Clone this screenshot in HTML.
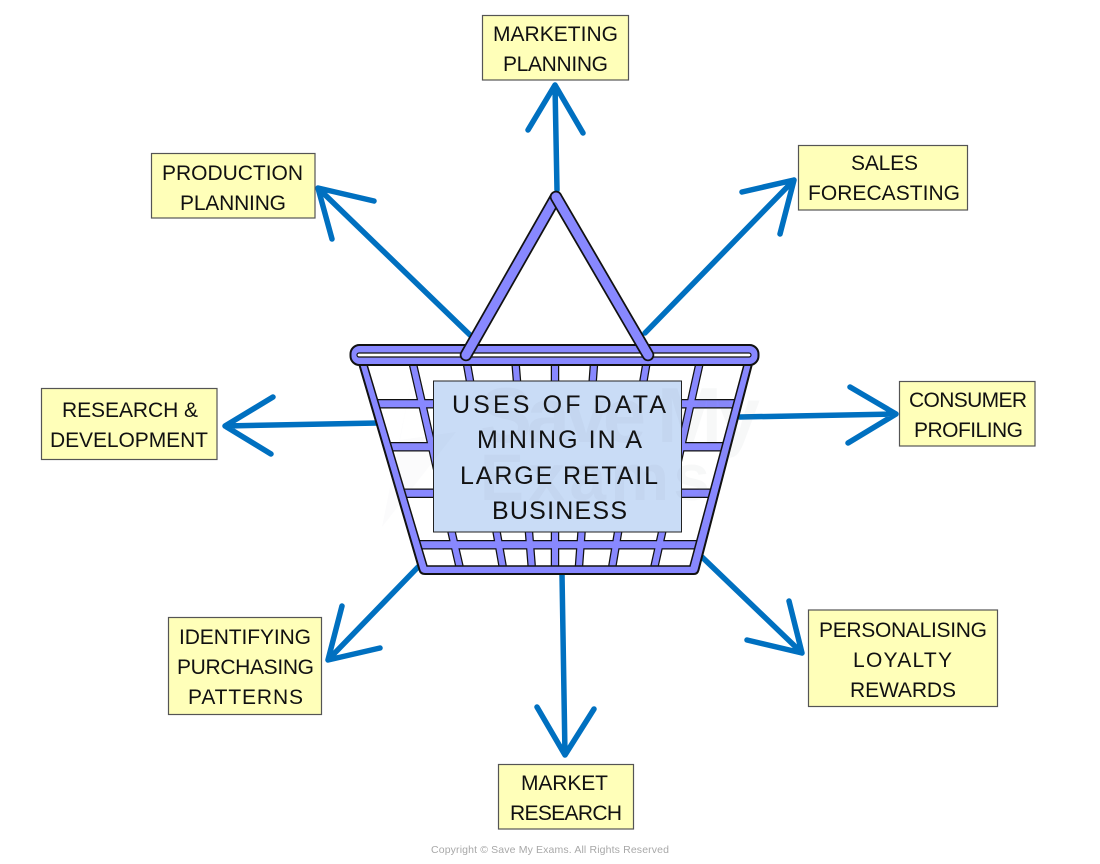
<!DOCTYPE html>
<html><head><meta charset="utf-8"><style>
html,body{margin:0;padding:0;background:#fff;width:1100px;height:864px;overflow:hidden}
svg{display:block}
.t{font-family:"Liberation Sans",sans-serif;font-size:21px;fill:#111}
.c{font-family:"Liberation Sans",sans-serif;font-size:25px;fill:#111}
.b{fill:#ffffb9;stroke:#555;stroke-width:1.2}
</style></head><body>
<svg width="1100" height="864" viewBox="0 0 1100 864" xmlns="http://www.w3.org/2000/svg">
<defs><clipPath id="k"><polygon points="367,364.700 427,566 690,566 744,364.700"/></clipPath></defs>
<g fill="none" stroke="#0070c0" stroke-width="5.500" stroke-linecap="round" stroke-linejoin="round">
<path d="M557 190L555 85M528 130L555 85L583 133"/>
<path d="M470 335L318 188M374 201L318 188L332 239"/>
<path d="M645 333L794 180M742 192L794 180L780 234"/>
<path d="M740 417L896 414M850 387L896 414L848 443"/>
<path d="M378 423L225 426M273 397L225 426L271 454"/>
<path d="M418 567L328 660M342 606L328 660L380 648"/>
<path d="M562 574L565 755M537 707L565 755L594 709"/>
<path d="M702 557L802 653M747 640L802 653L789 601"/>
</g>
<path d="M358 360L419.500 570Q420.500 574 425 574H694Q697.500 574 698.500 570L753 360Z" fill="#8888ff" stroke="#111" stroke-width="2"/>
<polygon points="367,364.700 427,566 690,566 744,364.700" fill="#fff"/>
<g clip-path="url(#k)" fill="none">
<g stroke="#111" stroke-width="8.500">
<path d="M412 360L460.300 570M466.300 360L503.300 570M515.300 360L532 570M555 360V570M594.300 360L578.700 570M647 360L611.700 570M700.300 360L653.700 570"/>
</g>
<g stroke="#111" stroke-width="9.500">
<path d="M350 403.700H760M350 446.700H760M350 493.300H760M350 544.800H760"/>
</g>
<g stroke="#8888ff" stroke-width="6">
<path d="M412 360L460.300 570M466.300 360L503.300 570M515.300 360L532 570M555 360V570M594.300 360L578.700 570M647 360L611.700 570M700.300 360L653.700 570"/>
</g>
<g stroke="#8888ff" stroke-width="7">
<path d="M350 403.700H760M350 446.700H760M350 493.300H760M350 544.800H760"/>
</g>
</g>
<polygon points="367,364.700 427,566 690,566 744,364.700" fill="none" stroke="#111" stroke-width="1.500"/>
<rect x="350.500" y="345" width="408" height="20" rx="9" fill="#8888ff" stroke="#111" stroke-width="2"/>
<rect x="357" y="353" width="394" height="4" rx="2" fill="#fff" stroke="#111" stroke-width="1.200"/>
<g fill="none" stroke-linecap="round">
<path d="M466 355L556 197" stroke="#111" stroke-width="12.500"/>
<path d="M466 355L556 197" stroke="#8888ff" stroke-width="9"/>
<path d="M648 355L556 197" stroke="#111" stroke-width="12.500"/>
<path d="M648 355L556 197" stroke="#8888ff" stroke-width="9"/>
</g>
<rect x="433.500" y="381" width="248" height="151" fill="#c9dcf6" stroke="#222" stroke-width="1"/>
<g class="c">
<text class="c" x="452" y="413" textLength="214">USES OF DATA</text>
<text class="c" x="477" y="448" textLength="165">MINING IN A</text>
<text class="c" x="460" y="484" textLength="198">LARGE RETAIL</text>
<text class="c" x="492" y="519" textLength="135">BUSINESS</text>
</g>
<g fill="#7a7f90" opacity=".05" font-family="Liberation Sans, sans-serif" font-weight="bold">
<text x="480" y="442" font-size="78" textLength="280">Save My</text>
<text x="480" y="500" font-size="66" textLength="230">Exams</text>
</g>
<polygon points="420,338 382,527 456,432 400,440" fill="#7a7f90" opacity=".03"/>
<rect class="b" x="482.500" y="15.500" width="146" height="64.500"/>
<text class="t" x="493" y="41" textLength="125">MARKETING</text>
<text class="t" x="503" y="71" textLength="105">PLANNING</text>
<rect class="b" x="151.500" y="153.500" width="163.500" height="64.500"/>
<text class="t" x="162" y="180" textLength="141">PRODUCTION</text>
<text class="t" x="180" y="210" textLength="106">PLANNING</text>
<rect class="b" x="798.500" y="145.500" width="169" height="64.500"/>
<text class="t" x="851" y="170" textLength="67">SALES</text>
<text class="t" x="808" y="200" textLength="152">FORECASTING</text>
<rect class="b" x="899.500" y="381.500" width="135.500" height="64.500"/>
<text class="t" x="909" y="407" textLength="118">CONSUMER</text>
<text class="t" x="914" y="437" textLength="109">PROFILING</text>
<rect class="b" x="41.500" y="388.500" width="175.500" height="71"/>
<text class="t" x="62" y="417" textLength="136">RESEARCH &amp;</text>
<text class="t" x="50" y="447" textLength="158">DEVELOPMENT</text>
<rect class="b" x="168.500" y="617.500" width="153" height="97"/>
<text class="t" x="179" y="644" textLength="132">IDENTIFYING</text>
<text class="t" x="177" y="674" textLength="137">PURCHASING</text>
<text class="t" x="188" y="704" textLength="115">PATTERNS</text>
<rect class="b" x="808.500" y="610" width="189" height="96.500"/>
<text class="t" x="819" y="637" textLength="168">PERSONALISING</text>
<text class="t" x="853" y="667" textLength="99">LOYALTY</text>
<text class="t" x="850" y="697" textLength="106">REWARDS</text>
<rect class="b" x="498.500" y="764.500" width="135" height="64.500"/>
<text class="t" x="521" y="790" textLength="87">MARKET</text>
<text class="t" x="510" y="820" textLength="112">RESEARCH</text>
<text x="550" y="853" text-anchor="middle" font-family="Liberation Sans, sans-serif" font-size="10.500" fill="#a8a8a8" textLength="238">Copyright © Save My Exams. All Rights Reserved</text>
</svg>
</body></html>
